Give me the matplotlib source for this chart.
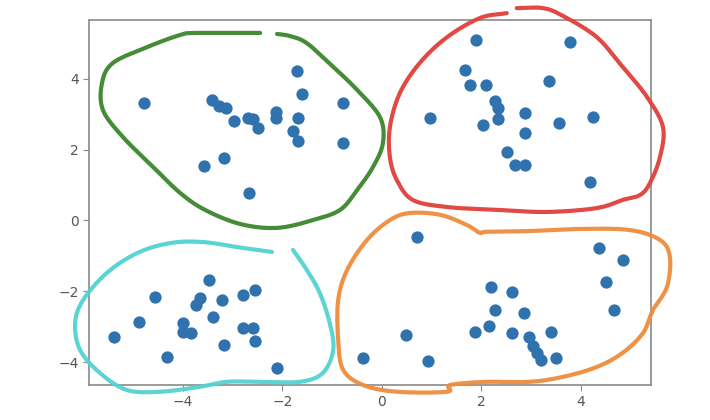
import matplotlib
matplotlib.use("Agg")
import matplotlib.pyplot as plt
import numpy as np

# ---- scatter data ----
green_x = [-4.78, -3.42, -3.27, -3.14, -2.97, -2.69, -2.59, -2.49, -2.13, -2.13,
           -1.71, -1.61, -1.69, -1.79, -1.69, -0.78, -0.78, -3.18, -3.58, -2.67]
green_y = [3.33, 3.40, 3.23, 3.19, 2.81, 2.90, 2.86, 2.62, 3.07, 2.89,
           4.22, 3.56, 2.90, 2.53, 2.25, 3.33, 2.18, 1.77, 1.54, 0.79]

red_x = [1.90, 3.78, 1.67, 1.77, 2.10, 3.36, 2.27, 2.34, 2.34, 2.04,
         2.87, 0.96, 2.87, 3.56, 4.24, 2.51, 2.67, 2.87, 4.18]
red_y = [5.10, 5.05, 4.25, 3.83, 3.83, 3.94, 3.38, 3.17, 2.87, 2.70,
         3.03, 2.90, 2.46, 2.75, 2.93, 1.94, 1.57, 1.57, 1.10]

cyan_x = [-3.47, -4.56, -3.66, -3.74, -3.21, -2.80, -2.55, -4.89, -3.40, -4.01,
          -4.01, -3.84, -5.39, -2.79, -2.60, -2.55, -3.17, -4.32, -2.12]
cyan_y = [-1.68, -2.15, -2.18, -2.39, -2.25, -2.10, -1.96, -2.86, -2.72, -2.89,
          -3.14, -3.19, -3.28, -3.05, -3.05, -3.42, -3.52, -3.85, -4.18]

orange_x = [0.70, 4.37, 4.84, 4.50, 4.66, 2.20, 2.61, 2.28, 2.85, 2.15, 1.87,
            2.61, 2.95, 3.39, 3.04, 3.11, 3.19, 3.50, 0.48, -0.38, 0.93]
orange_y = [-0.46, -0.79, -1.12, -1.73, -2.53, -1.87, -2.01, -2.53, -2.62, -2.97, -3.14,
            -3.19, -3.28, -3.14, -3.56, -3.75, -3.94, -3.89, -3.23, -3.89, -3.96]

# ---- hand-drawn outline annotations (data units) ----
green_outline_x = [-2.45, -3.72, -4.06, -4.72, -5.41, -5.63, -5.61, -5.21, -4.60, -4.06,
                   -3.56, -2.85, -2.11, -1.39, -0.84, -0.50, -0.18, 0.02, -0.04, -0.50,
                   -0.98, -1.51, -1.85, -2.11]
green_outline_y = [5.30, 5.30, 5.24, 4.90, 4.45, 3.88, 3.12, 2.36, 1.51, 0.78,
                   0.30, -0.10, -0.21, 0.01, 0.30, 0.86, 1.51, 2.19, 2.92, 3.69,
                   4.34, 5.01, 5.21, 5.27]

red_outline_x = [2.51, 1.97, 1.31, 0.76, 0.36, 0.16, 0.16, 0.30, 0.62, 1.31, 2.31, 3.32,
                 4.32, 4.84, 5.19, 5.39, 5.59, 5.65, 5.33, 4.84, 4.32, 3.64, 3.24, 2.71]
red_outline_y = [5.86, 5.72, 5.18, 4.45, 3.60, 2.64, 1.79, 1.14, 0.58, 0.38, 0.30, 0.24,
                 0.35, 0.58, 0.72, 1.06, 1.79, 2.64, 3.49, 4.34, 5.18, 5.78, 6.00, 6.00]

cyan_outline_x = [-2.21, -2.79, -3.60, -4.26, -4.92, -5.53, -6.01, -6.17, -6.07, -5.67,
                  -5.13, -4.46, -3.66, -3.12, -2.45, -1.65, -1.19, -0.98, -1.05, -1.25,
                  -1.51, -1.79]
cyan_outline_y = [-0.89, -0.78, -0.61, -0.64, -0.92, -1.48, -2.25, -2.90, -3.66, -4.31,
                  -4.79, -4.84, -4.70, -4.56, -4.56, -4.56, -4.31, -3.66, -2.90, -2.05,
                  -1.40, -0.83]

orange_outline_x = [0.56, 1.17, 1.71, 1.97, 2.11, 2.97, 3.98, 4.98, 5.59, 5.79, 5.73,
                    5.45, 5.25, 4.84, 4.32, 3.64, 2.97, 2.11, 1.37, 1.31, 0.30, -0.38,
                    -0.78, -0.88, -0.88, -0.70, -0.30, 0.16]
orange_outline_y = [0.21, 0.16, -0.13, -0.35, -0.32, -0.30, -0.24, -0.27, -0.55, -1.03,
                    -1.88, -2.53, -3.18, -3.74, -4.14, -4.42, -4.56, -4.56, -4.65, -4.84,
                    -4.84, -4.65, -4.22, -3.38, -2.25, -1.40, -0.55, 0.01]

x_ticks = [-4, -2, 0, 2, 4]
y_ticks = [-4, -2, 0, 2, 4]


def smooth_outline(xs, ys, closed=False, n=12):
    """Catmull-Rom smoothing of a hand-drawn outline trace."""
    p = np.column_stack([xs, ys]).astype(float)
    if closed:
        p = np.vstack([p[-1], p, p[0], p[1]])
    else:
        p = np.vstack([2 * p[0] - p[1], p, 2 * p[-1] - p[-2]])
    out = []
    t = np.linspace(0, 1, n, endpoint=False)[:, None]
    for i in range(1, len(p) - 2):
        p0, p1, p2, p3 = p[i - 1], p[i], p[i + 1], p[i + 2]
        seg = 0.5 * ((2 * p1) + (-p0 + p2) * t + (2 * p0 - 5 * p1 + 4 * p2 - p3) * t ** 2
                     + (-p0 + 3 * p1 - 3 * p2 + p3) * t ** 3)
        out.append(seg)
    out.append(p[-2][None, :])
    out = np.vstack(out)
    return out[:, 0], out[:, 1]


fig = plt.figure(figsize=(7.1, 4.2), dpi=100)
ax = fig.add_axes([0.1254, 0.0833, 0.7915, 0.8687])

all_x = green_x + red_x + cyan_x + orange_x
all_y = green_y + red_y + cyan_y + orange_y
ax.scatter(all_x, all_y, s=78, color="#3072ad", zorder=3, linewidths=0)

outline_style = dict(lw=3.0, solid_capstyle="round", solid_joinstyle="round",
                     clip_on=False, zorder=4, alpha=0.95)
for ox, oy, col, closed in [
    (green_outline_x, green_outline_y, "#3b862c", False),
    (red_outline_x, red_outline_y, "#e0403a", False),
    (cyan_outline_x, cyan_outline_y, "#52d2d2", False),
    (orange_outline_x, orange_outline_y, "#ee8c3e", True),
]:
    sx, sy = smooth_outline(ox, oy, closed=closed)
    ax.plot(sx, sy, color=col, **outline_style)

ax.set_xlim(-5.89, 5.41)
ax.set_ylim(-4.65, 5.66)
ax.set_xticks(x_ticks)
ax.set_yticks(y_ticks)
ax.set_xticklabels([("\u2212" + str(abs(t))) if t < 0 else str(t) for t in x_ticks])
ax.set_yticklabels([("\u2212" + str(abs(t))) if t < 0 else str(t) for t in y_ticks])
ax.tick_params(labelsize=10, colors="#888888", labelcolor="#555555", length=4)
for sp in ax.spines.values():
    sp.set_color("#8a8a8a")
    sp.set_linewidth(1.2)

fig.savefig("out.png", dpi=100)
